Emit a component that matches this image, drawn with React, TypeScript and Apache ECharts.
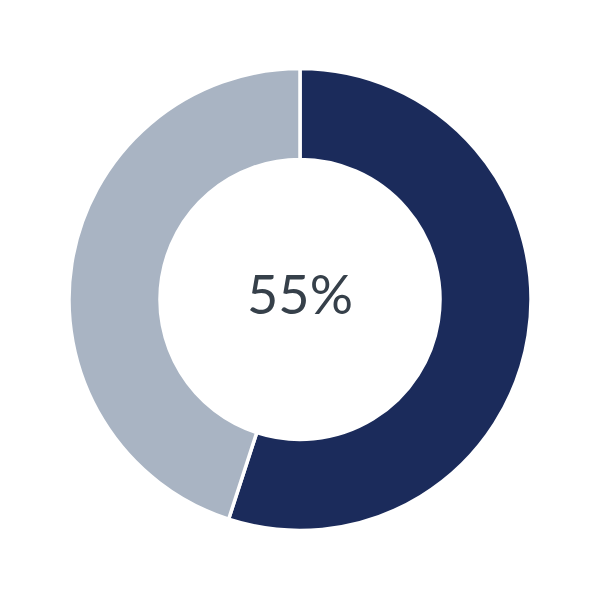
import React, { useEffect, useRef } from "react";
import * as echarts from "echarts";

const categories = ["Yes", "No"];
const values = [55, 45];
const colors = ["#1b2b5b", "#a9b4c3"];
const centerLabel = "55%";

export default function App() {
  const ref = useRef<HTMLDivElement>(null);
  useEffect(() => {
    if (!ref.current) return;
    const chart = echarts.init(ref.current, null, { renderer: "svg" });
    chart.setOption({
      animation: false,
      graphic: [
        {
          type: "text",
          left: "center",
          top: 258,
          style: {
            text: centerLabel,
            fontFamily: "Lato",
            fontWeight: 400,
            fontSize: 54,
            fill: "#36404a",
          },
        },
      ],
      series: [
        {
          type: "pie",
          radius: [140, 231],
          center: ["50%", "50%"],
          startAngle: 90,
          clockwise: true,
          label: { show: false },
          labelLine: { show: false },
          itemStyle: { borderColor: "#ffffff", borderWidth: 3.5 },
          emphasis: { disabled: true },
          data: categories.map((c, i) => ({
            name: c,
            value: values[i],
            itemStyle: { color: colors[i] },
          })),
        },
      ],
    });
    return () => chart.dispose();
  }, []);
  return <div ref={ref} style={{ width: 584, height: 583 }} />;
}
